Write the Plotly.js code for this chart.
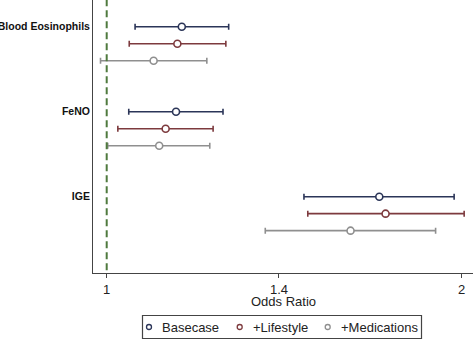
<!DOCTYPE html>
<html>
<head>
<meta charset="utf-8">
<script src="https://cdn.plot.ly/plotly-3.0.1.min.js"></script>
<style>html,body{margin:0;padding:0;background:#fff;}#chart{width:474px;height:340px;}</style>
</head>
<body>
<div id="chart"></div>
<script>
// Data
const categories = ["Blood Eosinophils", "FeNO", "IGE"];
const seriesNames = ["Basecase", "+Lifestyle", "+Medications"];

const basecaseOR = [1.158, 1.145, 1.703];
const basecaseLo = [1.057, 1.044, 1.470];
const basecaseHi = [1.269, 1.255, 1.971];

const lifestyleOR = [1.148, 1.122, 1.724];
const lifestyleLo = [1.045, 1.022, 1.481];
const lifestyleHi = [1.262, 1.231, 2.010];

const medicationsOR = [1.096, 1.108, 1.610];
const medicationsLo = [0.988, 1.002, 1.363];
const medicationsHi = [1.216, 1.223, 1.901];

const xTickVals = [1, 1.4, 2];
const xTickText = ["1", "1.4", "2"];
const refLine = 1;

const colors = ["#2b3558", "#7d3a3e", "#8f8f8f"];
const groupStep = 5;

const series = [
  {or: basecaseOR, lo: basecaseLo, hi: basecaseHi},
  {or: lifestyleOR, lo: lifestyleLo, hi: lifestyleHi},
  {or: medicationsOR, lo: medicationsLo, hi: medicationsHi}
];

const traces = series.map((s, k) => ({
  type: "scatter",
  mode: "markers",
  name: seriesNames[k],
  showlegend: false,
  x: s.or,
  y: categories.map((c, i) => i * groupStep + k),
  error_x: {
    type: "data",
    symmetric: false,
    array: s.hi.map((h, i) => h - s.or[i]),
    arrayminus: s.or.map((o, i) => o - s.lo[i]),
    color: colors[k],
    thickness: 1.6,
    width: 3
  },
  marker: {symbol: "circle", size: 7, color: "#ffffff", line: {color: colors[k], width: 1.6}},
  cliponaxis: false
}));

const font = "Liberation Sans, Arial, sans-serif";

// plot-area geometry (pixels) used to place the hand-drawn legend
const W = 474, H = 340, ML = 93, MR = 1, MT = 0, MB = 67;
const PW = W - ML - MR, PH = H - MT - MB;
const px = v => (v - ML) / PW;
const py = v => (H - MB - v) / PH;

// legend layout (pixels)
const legendBox = {x0: 142.5, x1: 421.5, y0: 315.5, y1: 338.5};
const legendMarkX = [149, 239.7, 327.7];
const legendTextX = [160, 250.5, 338.5];
const legendY = 327;

const shapes = [{
  type: "line",
  xref: "x", yref: "paper",
  x0: refLine, x1: refLine, y0: 0.01, y1: 1,
  line: {color: "#4f7a3e", width: 2, dash: "7px,4px"}
}, {
  type: "rect", xref: "paper", yref: "paper",
  x0: px(legendBox.x0), x1: px(legendBox.x1), y0: py(legendBox.y1), y1: py(legendBox.y0),
  line: {color: "#444", width: 1.2}, fillcolor: "rgba(0,0,0,0)"
}];
const annotations = [{
  text: "Odds Ratio", xref: "paper", yref: "paper",
  x: 0.5, y: py(301), xanchor: "center", yanchor: "middle", showarrow: false,
  font: {family: font, size: 13, color: "#222"}
}];
seriesNames.forEach((n, k) => {
  shapes.push({
    type: "circle", xref: "paper", yref: "paper",
    xsizemode: "pixel", ysizemode: "pixel",
    xanchor: px(legendMarkX[k]), yanchor: py(legendY),
    x0: -2.5, x1: 2.5, y0: -2.5, y1: 2.5,
    line: {color: colors[k], width: 1.3}, fillcolor: "#ffffff"
  });
  annotations.push({
    text: n, xref: "paper", yref: "paper",
    x: px(legendTextX[k]), y: py(legendY), xanchor: "left", yanchor: "middle",
    showarrow: false, font: {family: font, size: 13, color: "#222"}
  });
});

const layout = {
  width: W,
  height: H,
  margin: {l: ML, r: MR, t: MT, b: MB},
  paper_bgcolor: "#ffffff",
  plot_bgcolor: "#ffffff",
  showlegend: false,
  font: {family: font, color: "#222", size: 13},
  xaxis: {
    type: "log",
    range: [Math.log10(0.9736), Math.log10(2.045)],
    tickvals: xTickVals,
    ticktext: xTickText,
    ticks: "outside",
    ticklen: 4,
    tickcolor: "#444",
    showline: true,
    linecolor: "#444",
    linewidth: 1,
    showgrid: false,
    zeroline: false,
    tickfont: {family: font, size: 13, color: "#222"},
    automargin: false
  },
  yaxis: {
    range: [14.49, -1.57],
    tickvals: categories.map((c, i) => i * groupStep),
    ticktext: categories.map(c => "<b>" + c + "</b>"),
    ticks: "",
    showline: true,
    linecolor: "#444",
    linewidth: 1,
    showgrid: false,
    zeroline: false,
    tickfont: {family: font, size: 10.5, color: "#111"},
    automargin: false
  },
  shapes: shapes,
  annotations: annotations
};

Plotly.newPlot("chart", traces, layout, {displayModeBar: false, staticPlot: true});
</script>
</body>
</html>
